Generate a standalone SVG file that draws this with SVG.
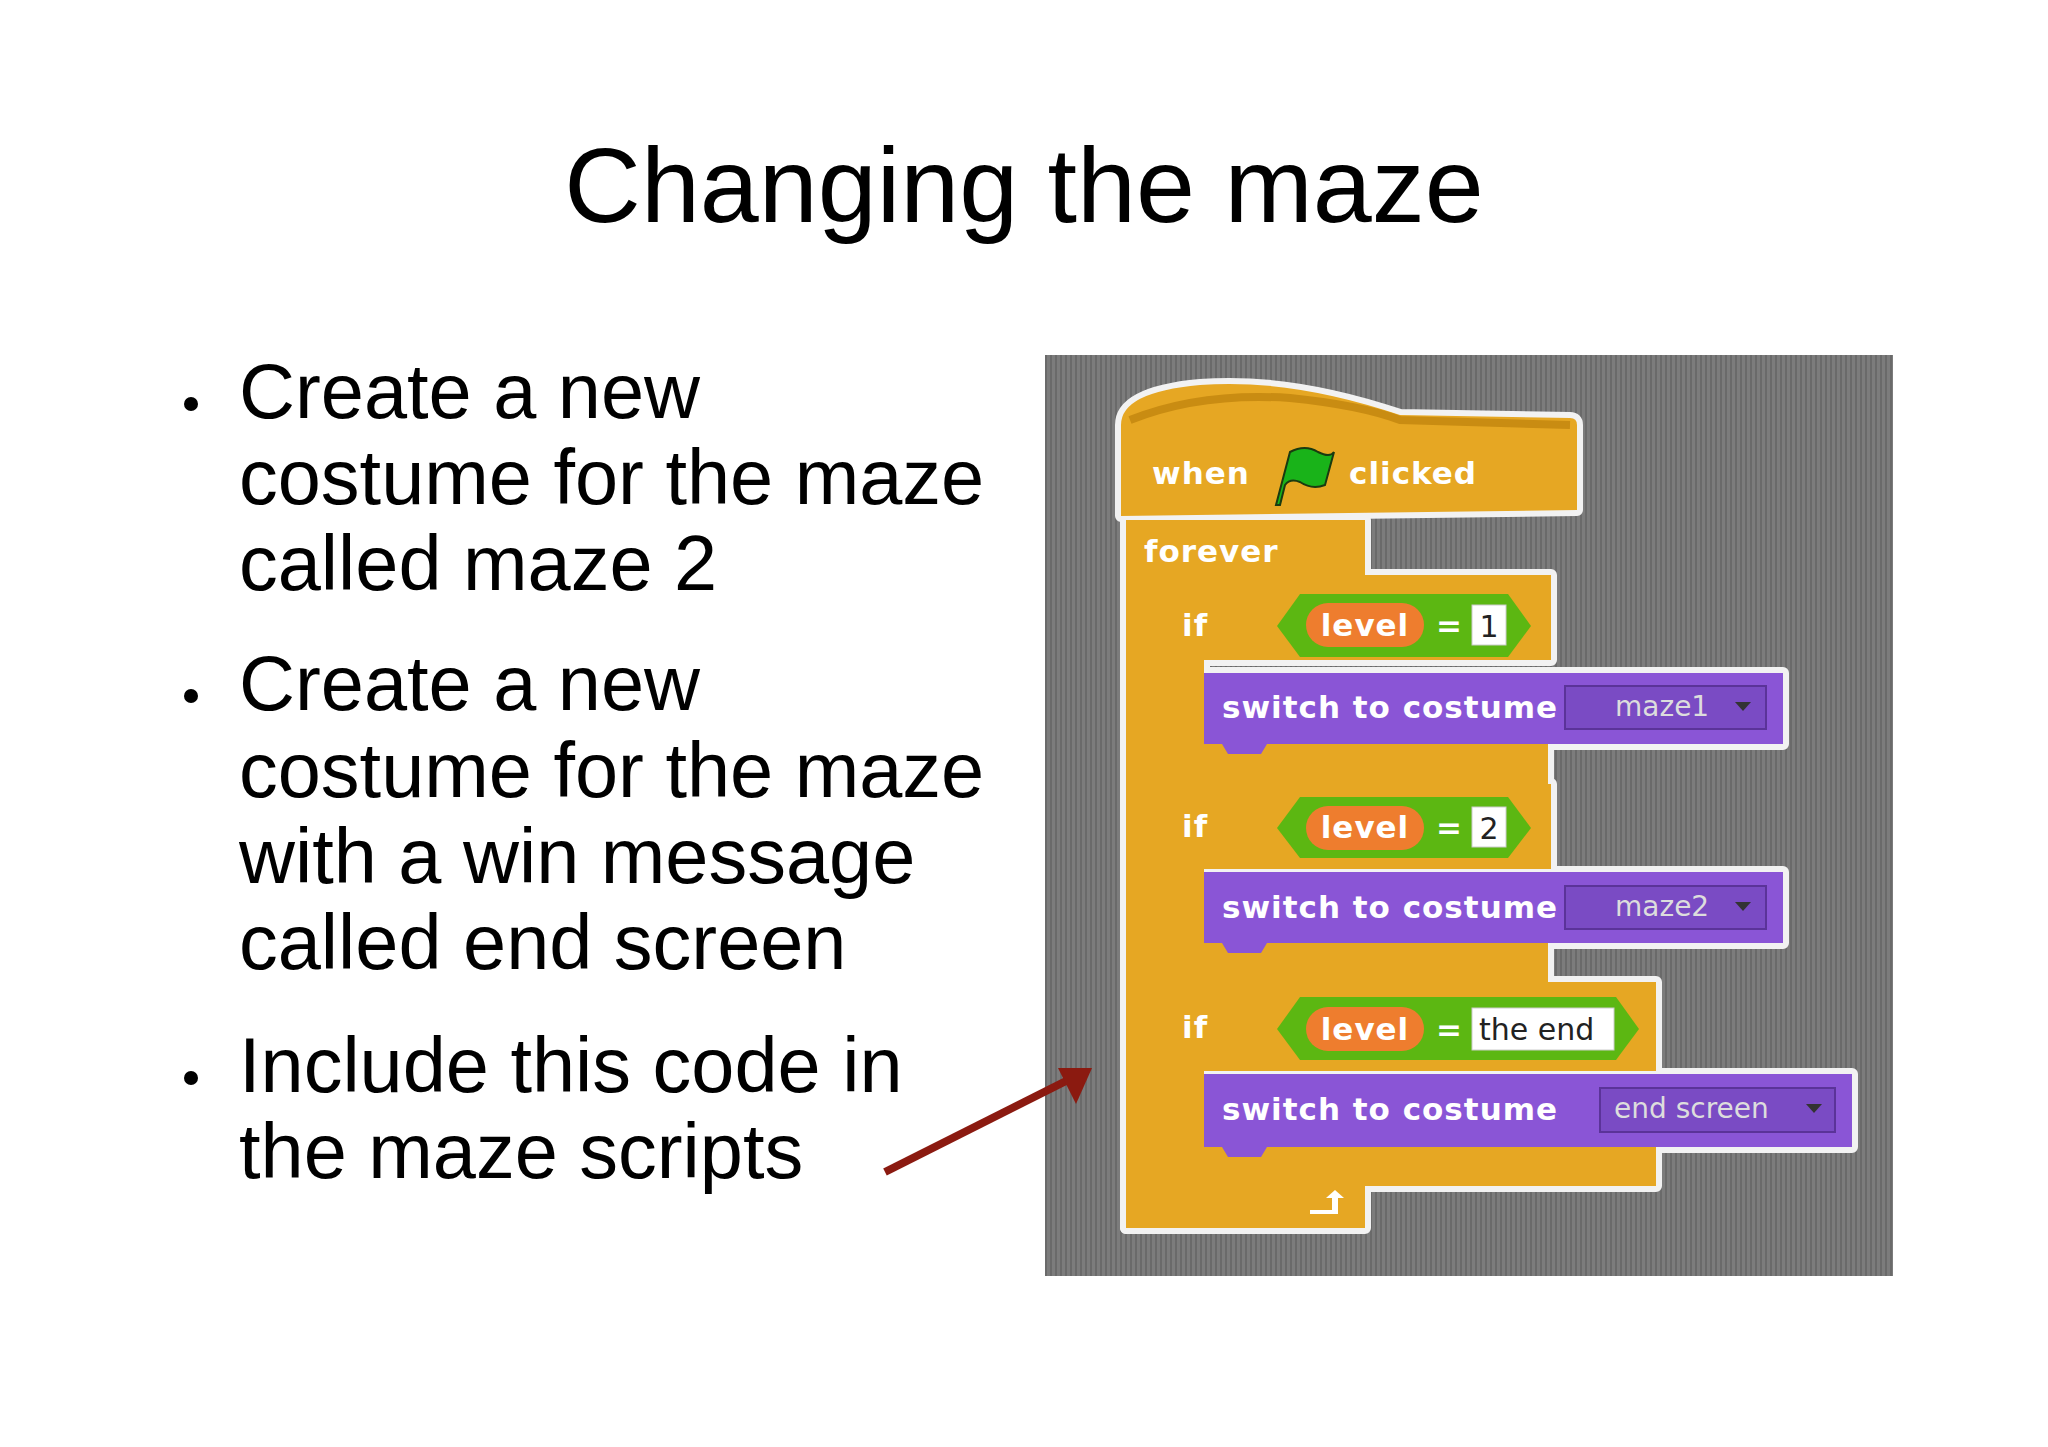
<svg xmlns="http://www.w3.org/2000/svg" width="2048" height="1447" viewBox="0 0 2048 1447">
<defs>
<pattern id="st" width="5" height="10" patternUnits="userSpaceOnUse"><rect width="5" height="10" fill="#7c7c7c"/><rect width="2" height="10" fill="#6a6a6a"/></pattern>
<style>
.t{font-family:"Liberation Sans",Arial,sans-serif;fill:#000}
.b{font-family:"DejaVu Sans",sans-serif;font-weight:bold;font-size:31px;fill:#fff;letter-spacing:1px}
.o{fill:#E6A723}
.p{fill:#8a55d6}
.g{fill:#5cb712}
.or{fill:#ee7d2e}
.w rect,.w path{stroke:#f2f2f2;stroke-width:12;stroke-linejoin:round}
.dd{fill:#7a4bc4;stroke:#5b3399;stroke-width:2}
</style>
</defs>
<rect width="2048" height="1447" fill="#fff"/>
<text class="t" x="1024" y="222" font-size="106" text-anchor="middle">Changing the maze</text>
<g id="bullets" class="t" font-size="77.5">
<circle cx="191" cy="404" r="7" fill="#000"/>
<text x="239" y="418">Create a new</text>
<text x="239" y="504">costume for the maze</text>
<text x="239" y="590">called maze 2</text>
<circle cx="191" cy="696" r="7" fill="#000"/>
<text x="239" y="710">Create a new</text>
<text x="239" y="797">costume for the maze</text>
<text x="239" y="883">with a win message</text>
<text x="239" y="969">called end screen</text>
<circle cx="191" cy="1078" r="7" fill="#000"/>
<text x="239" y="1092">Include this code in</text>
<text x="239" y="1178">the maze scripts</text>
</g>
<rect id="panel" x="1045" y="355" width="848" height="921" fill="url(#st)"/>
<g id="script">
<g class="w">
<path class="o" d="M1121,425 Q1121,392 1200,385 Q1290,378 1400,415 L1570,418 Q1577,418 1577,425 L1577,510 L1121,516 Z"/>
<rect class="o" x="1126" y="520" width="239" height="61"/>
<rect class="o" x="1126" y="520" width="43" height="708"/>
<rect class="o" x="1126" y="1186" width="239" height="42"/>
<rect class="o" x="1169" y="575" width="382" height="85"/>
<rect class="o" x="1169" y="575" width="35" height="611"/>
<rect class="o" x="1169" y="744" width="379" height="40"/>
<rect class="o" x="1169" y="784" width="382" height="85"/>
<rect class="o" x="1169" y="943" width="379" height="39"/>
<rect class="o" x="1169" y="982" width="487" height="89"/>
<rect class="o" x="1169" y="1147" width="487" height="39"/>
<rect class="p" x="1204" y="673" width="579" height="71"/>
<rect class="p" x="1204" y="872" width="579" height="71"/>
<rect class="p" x="1204" y="1074" width="648" height="73"/>
</g>
<path class="o" d="M1121,425 Q1121,392 1200,385 Q1290,378 1400,415 L1570,418 Q1577,418 1577,425 L1577,510 L1121,516 Z"/>
<path d="M1130,420 Q1200,392 1290,398 Q1360,405 1400,420 L1570,425" fill="none" stroke="#c98c12" stroke-width="8"/>
<rect class="o" x="1126" y="520" width="239" height="61"/>
<rect class="o" x="1126" y="520" width="43" height="708"/>
<rect class="o" x="1126" y="1186" width="239" height="42"/>
<rect class="o" x="1169" y="575" width="382" height="85"/>
<rect class="o" x="1169" y="575" width="35" height="611"/>
<rect class="o" x="1169" y="744" width="379" height="40"/>
<rect class="o" x="1169" y="784" width="382" height="85"/>
<rect class="o" x="1169" y="943" width="379" height="39"/>
<rect class="o" x="1169" y="982" width="487" height="89"/>
<rect class="o" x="1169" y="1147" width="487" height="39"/>
<rect class="p" x="1204" y="673" width="579" height="71"/>
<rect class="p" x="1204" y="872" width="579" height="71"/>
<rect class="p" x="1204" y="1074" width="648" height="73"/>
<path d="M1222,744 h45 l-6,10 h-33 Z M1222,943 h45 l-6,10 h-33 Z M1222,1147 h45 l-6,10 h-33 Z" fill="#8a55d6"/>
</g>
<g id="hat">
<text class="b" x="1152" y="484">when</text>
<path d="M1276,505 L1290,452 Q1305,444 1318,452 Q1330,458 1334,452 L1325,485 Q1312,490 1300,482 Q1290,478 1285,485 L1280,505 Z" fill="#19b319" stroke="#1a3a10" stroke-width="2"/>
<text class="b" x="1349" y="484">clicked</text>
</g>
<g id="forever">
<text class="b" x="1144" y="562">forever</text>
<path d="M1310,1210 h22 v-12 l-6,0 l9,-8 l9,8 h-6 v16 h-28 Z" fill="#fff"/>
</g>
<g id="if1">
<text class="b" x="1182" y="636">if</text>
<path class="g" d="M1277,626 L1300,594 H1508 L1531,626 L1508,657 H1300 Z"/>
<rect class="or" x="1306" y="603" width="118" height="44" rx="22"/>
<text class="b" x="1365" y="636" text-anchor="middle">level</text>
<text class="b" x="1436" y="636">=</text>
<rect x="1472" y="605" width="34" height="40" fill="#fff" stroke="#ccc"/>
<text x="1489" y="637" font-family="DejaVu Sans,sans-serif" font-size="30" fill="#222" text-anchor="middle">1</text>
</g>
<g id="sw1">
<text class="b" x="1222" y="718">switch to costume</text>
<rect class="dd" x="1565" y="686" width="201" height="43"/>
<text x="1615" y="716" font-family="DejaVu Sans,sans-serif" font-size="28" fill="#ddd">maze1</text>
<path d="M1735,702 h16 l-8,9 Z" fill="#333"/>
</g>
<g id="if2">
<text class="b" x="1182" y="837">if</text>
<path class="g" d="M1277,828 L1300,797 H1508 L1531,828 L1508,858 H1300 Z"/>
<rect class="or" x="1306" y="806" width="118" height="44" rx="22"/>
<text class="b" x="1365" y="838" text-anchor="middle">level</text>
<text class="b" x="1436" y="838">=</text>
<rect x="1472" y="807" width="34" height="40" fill="#fff" stroke="#ccc"/>
<text x="1489" y="839" font-family="DejaVu Sans,sans-serif" font-size="30" fill="#222" text-anchor="middle">2</text>
</g>
<g id="sw2">
<text class="b" x="1222" y="918">switch to costume</text>
<rect class="dd" x="1565" y="886" width="201" height="43"/>
<text x="1615" y="916" font-family="DejaVu Sans,sans-serif" font-size="28" fill="#ddd">maze2</text>
<path d="M1735,902 h16 l-8,9 Z" fill="#333"/>
</g>
<g id="if3">
<text class="b" x="1182" y="1038">if</text>
<path class="g" d="M1277,1029 L1300,997 H1616 L1639,1029 L1616,1060 H1300 Z"/>
<rect class="or" x="1306" y="1007" width="118" height="44" rx="22"/>
<text class="b" x="1365" y="1040" text-anchor="middle">level</text>
<text class="b" x="1436" y="1040">=</text>
<rect x="1472" y="1008" width="142" height="42" fill="#fff" stroke="#ccc"/>
<text x="1479" y="1040" font-family="DejaVu Sans,sans-serif" font-size="30" fill="#222">the end</text>
</g>
<g id="sw3">
<text class="b" x="1222" y="1120">switch to costume</text>
<rect class="dd" x="1600" y="1088" width="235" height="44"/>
<text x="1614" y="1118" font-family="DejaVu Sans,sans-serif" font-size="28" fill="#ddd">end screen</text>
<path d="M1806,1104 h16 l-8,9 Z" fill="#333"/>
</g>
<g id="connectors">
<line x1="885" y1="1172" x2="1070" y2="1079" stroke="#8B1A10" stroke-width="8"/>
<path d="M1092,1068 L1058,1068 L1076,1104 Z" fill="#8B1A10"/>
</g>
</svg>
